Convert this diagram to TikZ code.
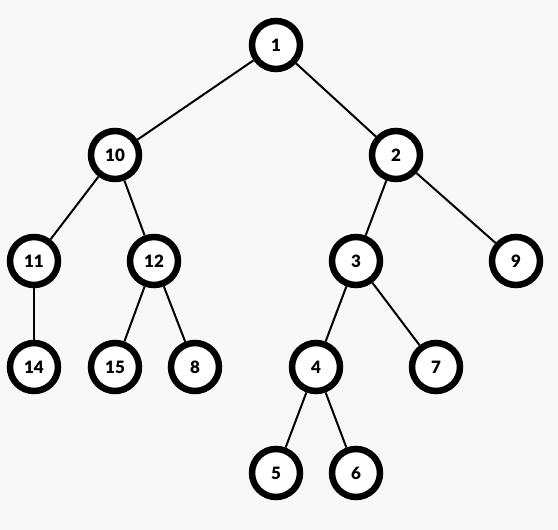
\documentclass[tikz,border=0pt]{standalone}
\usepackage{fontspec}
\setmainfont{Lato}[BoldFont={Lato Black}]
\definecolor{bgcol}{RGB}{248,248,248}
\begin{document}
\begin{tikzpicture}[x=1pt,y=-1pt,
  tnode/.style={circle,draw=black,fill=white,line width=6.5pt,minimum size=48pt,inner sep=0pt,font=\fontsize{17}{20}\selectfont\bfseries},
  tedge/.style={line width=2pt,draw=black}]
\fill[bgcol] (0,0) rectangle (558,530);
\useasboundingbox (0,0) rectangle (558,530);
\node[tnode] (n1) at (276,45) {1};
\node[tnode] (n10) at (115,155) {10};
\node[tnode] (n2) at (396,155) {2};
\node[tnode] (n11) at (34,261) {11};
\node[tnode] (n12) at (154,261) {12};
\node[tnode] (n3) at (356,261) {3};
\node[tnode] (n9) at (516,261) {9};
\node[tnode] (n14) at (34,367) {14};
\node[tnode] (n15) at (115,367) {15};
\node[tnode] (n8) at (195,367) {8};
\node[tnode] (n4) at (316,367) {4};
\node[tnode] (n7) at (436,367) {7};
\node[tnode] (n5) at (276,473) {5};
\node[tnode] (n6) at (356,473) {6};
\draw[tedge] (n1) -- (n10);
\draw[tedge] (n1) -- (n2);
\draw[tedge] (n10) -- (n11);
\draw[tedge] (n10) -- (n12);
\draw[tedge] (n2) -- (n3);
\draw[tedge] (n2) -- (n9);
\draw[tedge] (n11) -- (n14);
\draw[tedge] (n12) -- (n15);
\draw[tedge] (n12) -- (n8);
\draw[tedge] (n3) -- (n4);
\draw[tedge] (n3) -- (n7);
\draw[tedge] (n4) -- (n5);
\draw[tedge] (n4) -- (n6);
\end{tikzpicture}
\end{document}
